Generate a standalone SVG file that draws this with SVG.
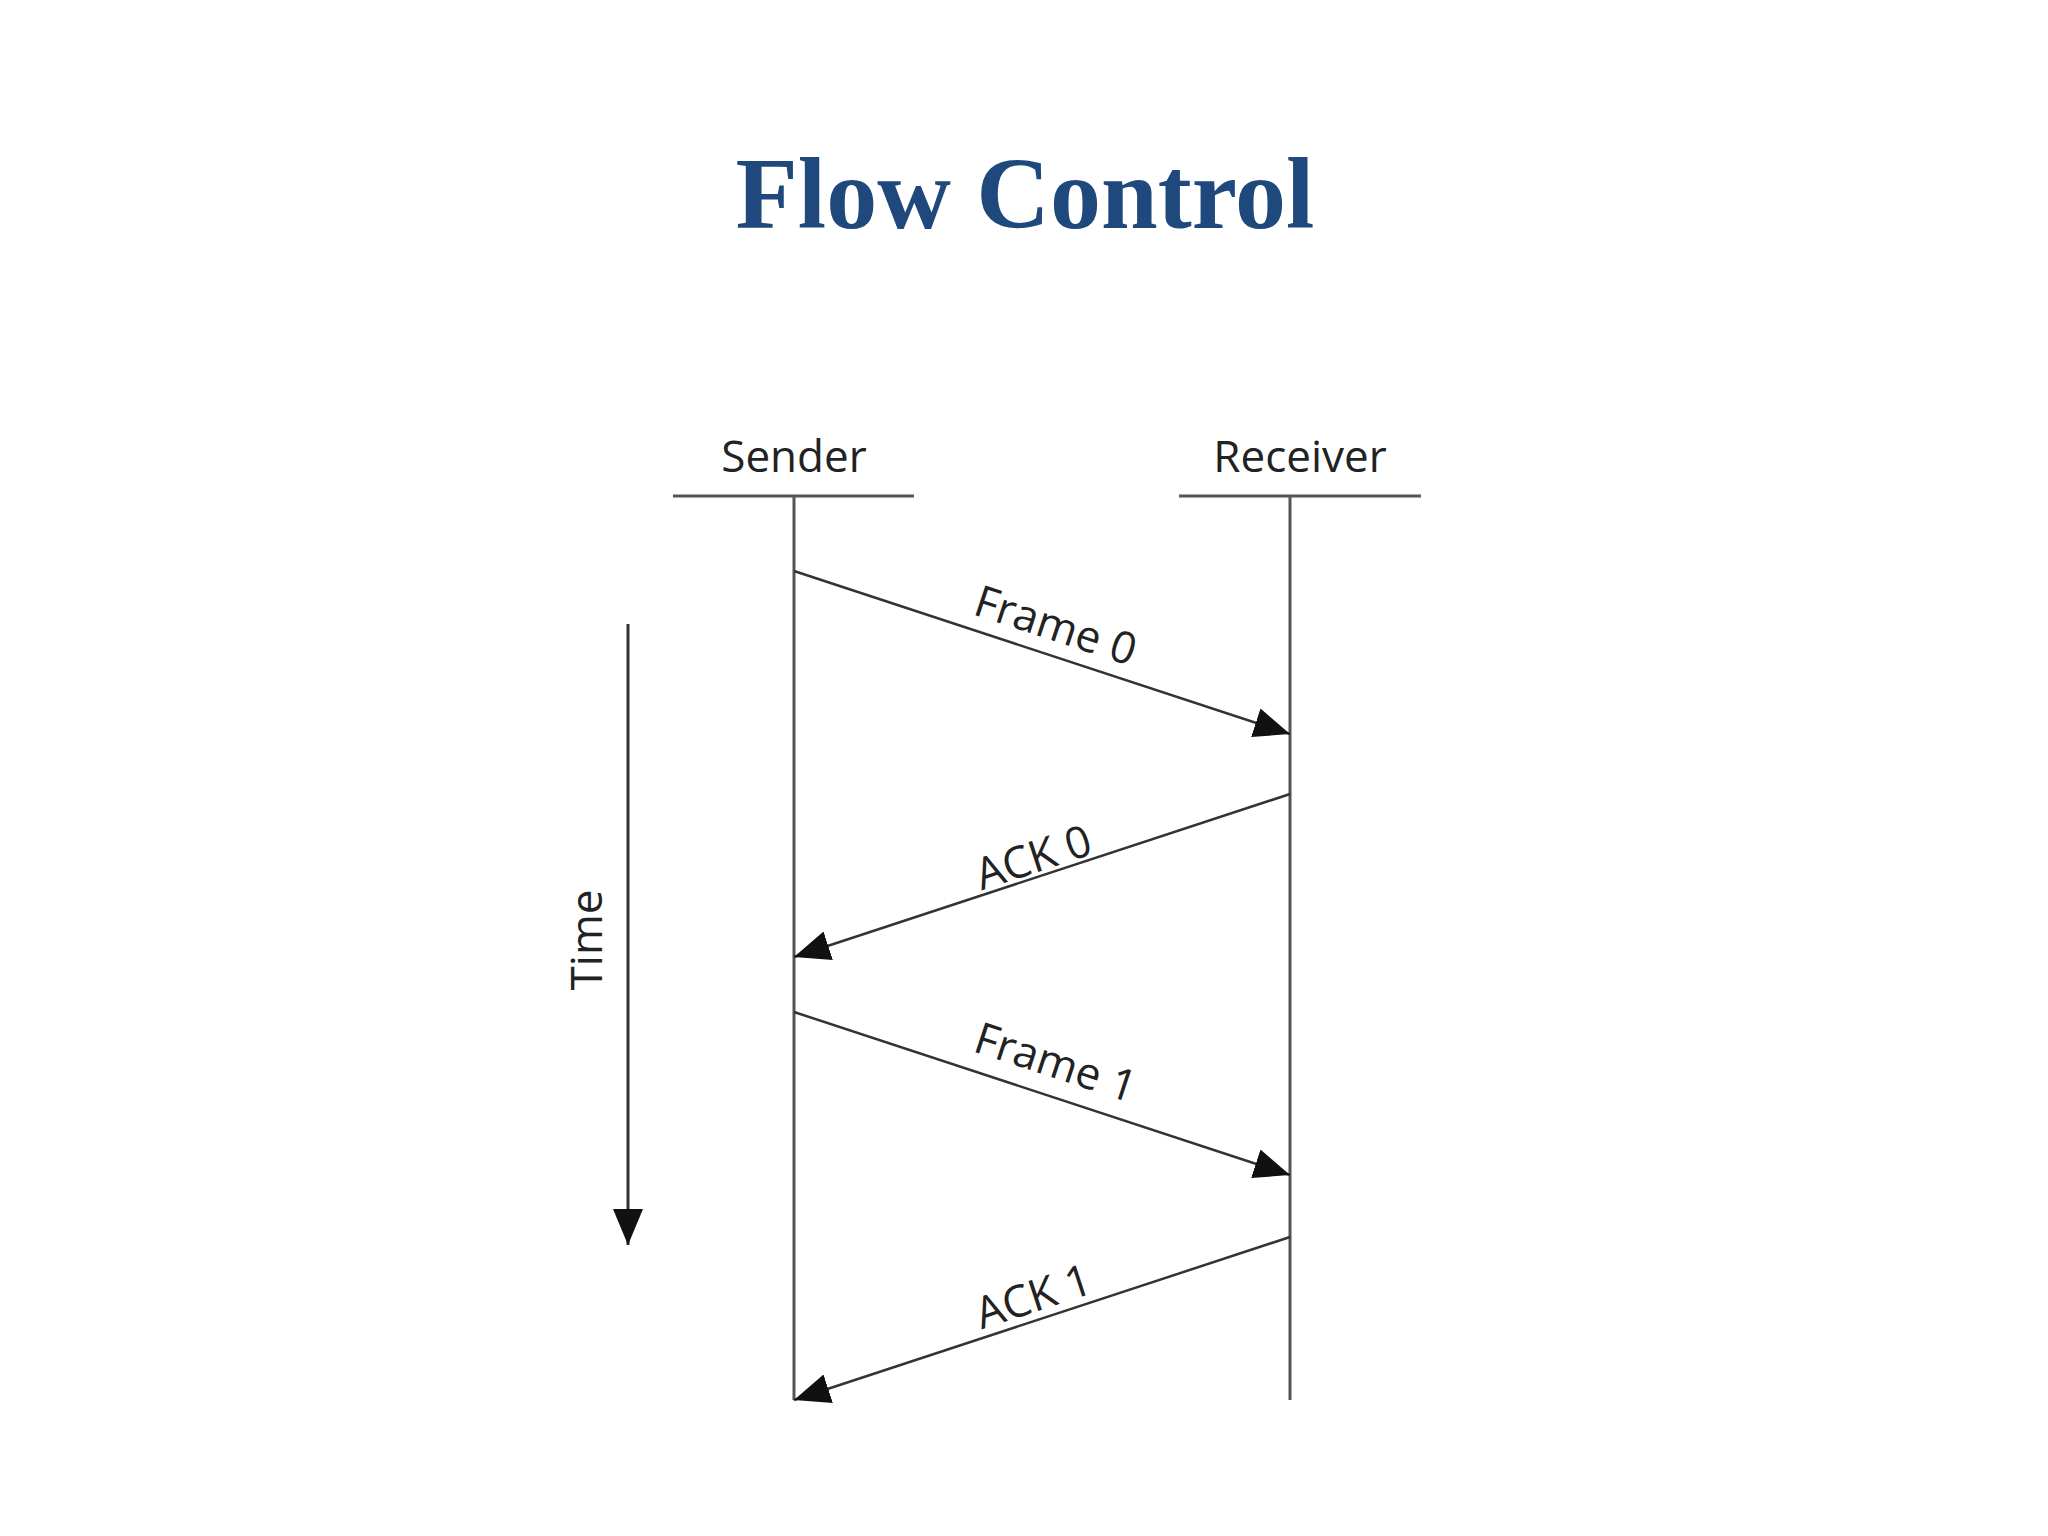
<svg xmlns="http://www.w3.org/2000/svg" width="2048" height="1536" viewBox="0 0 2048 1536">
<style>
.t{font-family:"Liberation Serif",serif;font-weight:bold;font-size:102px;fill:#1F497D}
.l{font-family:"Open Sans","DejaVu Sans",sans-serif;font-size:44px;fill:#222}
.ln{stroke:#555;stroke-width:3;fill:none}
.ar{stroke:#333;stroke-width:2.5;marker-end:url(#ah2)}
</style>
<defs>
<marker id="ah2" viewBox="0 0 12 10" refX="12" refY="5" markerWidth="36" markerHeight="30" orient="auto" markerUnits="userSpaceOnUse"><path d="M0,0 L12,5 L0,10 z" fill="#111"/></marker></defs>
<rect width="2048" height="1536" fill="#fff"/>
<text class="t" x="1025" y="228" text-anchor="middle">Flow Control</text>
<g id="sender"><text class="l" x="794" y="472" text-anchor="middle">Sender</text><line class="ln" x1="673" y1="496" x2="914" y2="496"/><line class="ln" x1="794" y1="496" x2="794" y2="1400"/></g>
<g id="receiver"><text class="l" x="1300" y="472" text-anchor="middle">Receiver</text><line class="ln" x1="1179" y1="496" x2="1421" y2="496"/><line class="ln" x1="1290" y1="496" x2="1290" y2="1400"/></g>
<g id="time"><line x1="628" y1="624" x2="628" y2="1245" stroke="#333" stroke-width="3" marker-end="url(#ah2)"/><text class="l" transform="translate(602,940) rotate(-90)" text-anchor="middle">Time</text></g>
<g id="connectors">
<line class="ar" x1="794" y1="571" x2="1290" y2="734"/>
<line class="ar" x1="1290" y1="794" x2="794" y2="957"/>
<line class="ar" x1="794" y1="1012" x2="1290" y2="1175"/>
<line class="ar" x1="1290" y1="1237" x2="794" y2="1400"/>
<text class="l" transform="translate(1051,640) rotate(18.2)" text-anchor="middle">Frame 0</text>
<text class="l" transform="translate(1038,872) rotate(-18.2)" text-anchor="middle">ACK 0</text>
<text class="l" transform="translate(1051,1077) rotate(18.2)" text-anchor="middle">Frame 1</text>
<text class="l" transform="translate(1038,1311) rotate(-18.2)" text-anchor="middle">ACK 1</text>
</g>
</svg>
